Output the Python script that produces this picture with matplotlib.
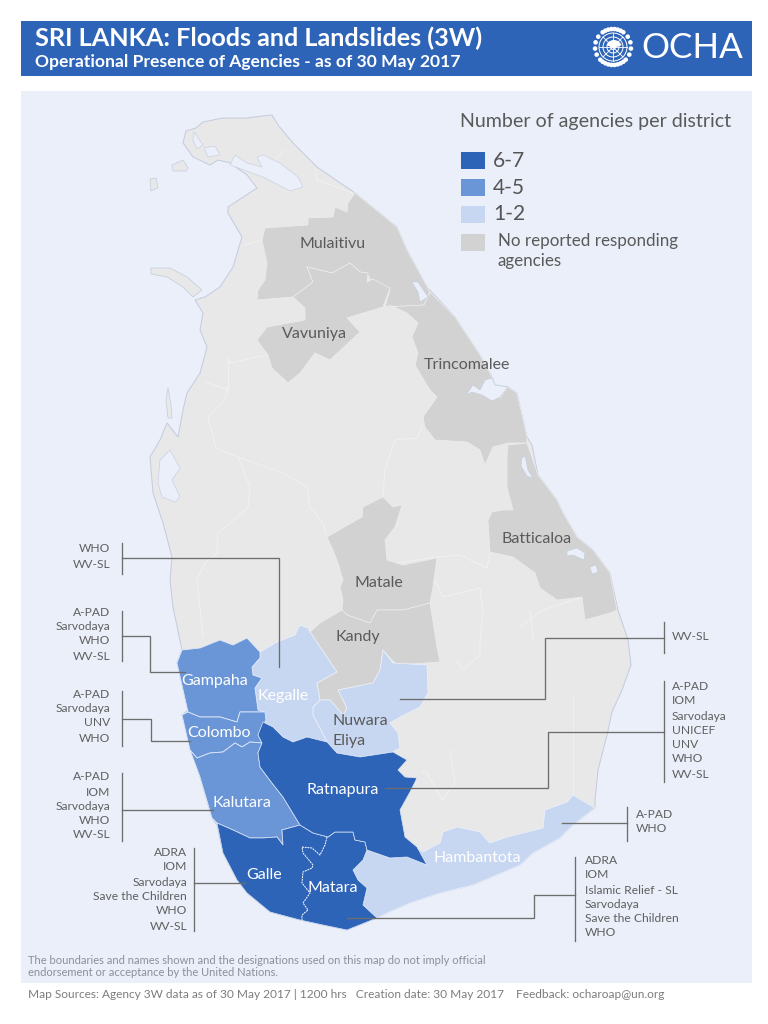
import numpy as np
import matplotlib
matplotlib.use('Agg')
import matplotlib.pyplot as plt
from matplotlib.patches import Polygon, Rectangle, Circle, Wedge

plt.rcParams['font.family'] = ['Lato', 'DejaVu Sans']

# colours of the classes
c_high = '#2d64b8'
c_mid = '#6a96d8'
c_low = '#c8d7f1'
c_none = '#d2d2d2'
c_land = '#e8e8e8'
c_sea = '#eaeffa'
c_coast = '#c3cbdd'
c_text = '#5a5a5a'
c_line = '#6d6d6d'

# outlines, in image pixels
island = [(196,128),(203,122),(223,118),(247,118),(262,116),(272,115),(278,125),(293,143),(317,167),(355,193),
    (397,227),(407,250),(427,287),(455,317),(480,355),(492,377),(495,385),(508,387),(517,393),(527,437),(532,445),
    (538,475),(557,500),(563,513),(577,537),(593,550),(610,573),(618,610),(628,640),(631,665),(622,690),(612,712),
    (607,735),(598,770),(595,800),(595,808),(573,825),(560,838),(533,853),(520,865),(473,885),(440,893),(410,903),
    (387,913),(377,918),(347,930),(323,925),(300,920),(270,912),(247,893),(237,880),(223,853),(217,825),(212,818),
    (200,777),(190,745),(182,715),(188,710),(177,663),(182,650),(173,607),(170,580),(172,557),(163,523),(153,493),
    (150,457),(160,440),(167,423),(178,437),(183,410),(187,393),(200,373),(207,347),(200,330),(203,313),(195,300),
    (205,297),(220,287),(233,267),(242,237),(228,213),(228,207),(257,188),(247,175),(230,163),(218,160),(210,165),
    (193,157),(183,143),(186,131)]
mannar = [(151,268),(170,268),(187,277),(202,290),(193,297),(183,287),(167,277),(151,274)]
delft = [(150,179),(156,178),(158,188),(151,191)]
kayts = [(172,165),(183,160),(188,168),(186,171),(173,171)]
karaitivu = [(168,388),(171,405),(172,418),(168,418),(166,400)]
jaffna_lagoon = [(230,165),(263,177),(290,191),(303,187),(298,177),(280,163),(263,155),(257,157),(262,167),(247,163),(235,155)]
jaffna_pond1 = [(194,132),(203,145),(197,149),(193,140)]
jaffna_pond2 = [(204,148),(215,146),(220,155),(208,157)]
nanthi_lagoon = [(412,282),(418,282),(428,297),(420,302),(418,292)]
puttalam_lagoon = [(160,460),(170,450),(180,468),(172,480),(180,497),(175,502),(162,497),(158,483)]
trinco_bay = [(466,395),(473,385),(480,390),(485,380),(492,378),(495,385),(508,387),(500,397),(492,401),(482,395),(472,392)]
batti_lagoon = [(522,458),(525,456),(528,470),(533,478),(527,476),(521,466)]
batti_lagoon2 = [(567,551),(577,548),(585,553),(584,560),(573,555),(567,556)]
arugam = [(590,567),(596,565),(598,572),(592,574)]

mulaitivu = [(265,228),(308,225),(308,218),(333,217),(335,207),(347,212),(348,203),(355,193),(397,227),(407,250),(430,292),
    (424,305),(385,307),(390,290),(370,279),(367,273),(360,272),(350,263),(332,273),(307,267),(313,282),(293,297),(257,300),
    (258,290),(265,280),(267,263),(262,240)]
vavuniya = [(307,267),(332,273),(350,263),(360,272),(368,273),(367,282),(373,279),(390,288),(383,307),(347,318),(360,332),
    (330,360),(315,353),(300,373),(288,383),(272,368),(268,355),(257,340),(267,327),(305,320),(305,308),(293,297),(313,282)]
trincomalee = [(385,307),(390,305),(407,313),(418,323),(412,337),(418,353),(415,365),(430,390),(437,397),(423,417),(425,427),
    (435,440),(467,442),(480,450),(485,465),(493,447),(508,443),(527,443),(527,437),(517,393),(508,387),(500,398),(492,377),
    (480,355),(455,317),(430,292),(424,305)]
batticaloa = [(508,445),(527,443),(538,475),(557,500),(563,513),(577,537),(593,550),(610,573),(617,610),(610,613),(585,620),
    (582,597),(557,600),(540,588),(535,573),(513,557),(490,552),(488,520),(492,512),(503,510),(513,510),(507,487),(507,457)]
matale = [(327,537),(362,517),(363,507),(383,497),(393,507),(402,505),(395,527),(385,540),(387,560),(403,565),(437,558),
    (433,587),(430,603),(403,610),(377,610),(370,623),(347,615),(342,610),(343,600),(340,587),(343,580),(338,563),(333,550)]
kandy = [(310,632),(320,623),(342,610),(347,615),(370,623),(377,610),(403,610),(430,603),(437,647),(440,662),(397,665),
    (390,658),(383,650),(380,670),(373,683),(338,690),(347,708),(343,715),(330,700),(320,700),(317,683),(337,672),(320,647)]
nuwara_eliya = [(383,650),(393,663),(427,665),(428,693),(420,707),(400,717),(390,723),(398,733),(400,748),(393,752),(360,757),
    (337,753),(327,742),(313,715),(313,707),(320,700),(330,700),(343,715),(347,708),(338,690),(373,683),(380,670)]
kegalle = [(300,625),(308,628),(310,632),(320,647),(337,672),(317,683),(320,700),(313,707),(313,715),(327,742),(307,737),
    (293,742),(283,737),(273,727),(263,722),(258,710),(255,688),(262,678),(253,675),(252,667),(260,658),(260,652),(277,642),(295,635)]
gampaha = [(182,650),(200,648),(220,640),(233,645),(247,638),(260,652),(260,658),(252,667),(253,675),(262,678),(255,688),(258,710),
    (265,712),(240,712),(237,722),(220,717),(200,717),(188,712),(177,663)]
colombo = [(182,715),(188,712),(200,717),(220,717),(237,722),(240,712),(265,712),(266,720),(258,735),(262,743),(250,742),(242,747),
    (235,743),(223,752),(210,753),(197,758),(190,750)]
kalutara = [(190,750),(197,758),(210,753),(223,752),(235,743),(242,747),(250,742),(262,743),(258,753),(260,767),(272,783),(283,797),
    (300,825),(282,830),(283,845),(277,837),(263,838),(250,838),(233,830),(217,823),(212,818),(200,777)]
ratnapura = [(263,722),(273,727),(283,737),(293,742),(307,737),(327,742),(337,753),(360,757),(393,752),(407,760),(398,770),(405,777),
    (417,778),(420,772),(410,792),(400,810),(405,837),(417,847),(427,865),(407,857),(390,858),(367,850),(365,842),(355,840),(353,832),
    (335,832),(328,837),(313,833),(300,825),(283,797),(272,783),(260,767),(258,753),(262,743),(258,735)]
galle_matara = [(217,823),(233,830),(250,838),(263,838),(277,837),(283,845),(282,830),(300,825),(313,833),(328,837),(335,832),(353,832),
    (355,840),(365,842),(367,850),(363,860),(353,870),(358,880),(367,888),(363,905),(377,918),(347,930),(323,925),(300,920),(270,912),
    (247,893),(237,880),(223,853)]
galle_matara_border = [(327,837),(325,845),(320,855),(312,848),(302,847),(303,853),(313,865),(312,868),(303,872),(302,883),(310,893),
    (303,903),(308,910),(302,915),(302,922)]
hambantota = [(367,850),(390,858),(407,857),(427,865),(417,847),(423,852),(440,843),(443,832),(457,827),(480,832),(490,843),(507,837),
    (543,828),(545,810),(567,802),(573,795),(595,808),(573,825),(560,838),(533,853),(520,865),(473,885),(440,893),(410,903),(387,913),
    (377,918),(363,905),(367,888),(358,880),(353,870),(363,860)]

# faint borders between the districts with no class colour
soft_borders = [
    [(245,245),(262,240)], [(283,150),(275,162)], [(315,168),(317,180),(353,193)],
    [(227,357),(230,363),(267,355)], [(228,360),(228,392)], [(205,382),(228,390)],
    [(227,387),(225,400),(208,417),(216,448),(238,457),(283,473),(307,487),(310,507),(323,523),(327,537)],
    [(238,457),(250,487),(248,508),(218,533),(217,553),(205,563),(197,580),(203,637)],
    [(423,425),(417,438),(395,440),(385,470),(383,495)],
    [(385,565),(437,557),(460,555),(487,568),(490,553)],
    [(433,577),(443,597),(480,588),(483,613),(480,640)],
    [(520,627),(543,610),(583,597)],
    [(480,640),(480,655),(463,670),(457,660)],
    [(450,750),(455,783),(442,800),(427,773),(420,772)],
    [(573,697),(573,795)], [(530,610),(533,640)],
]

# agencies shown per district (label block)
ag_kegalle = ['WHO', 'WV-SL']
ag_gampaha = ['A-PAD', 'Sarvodaya', 'WHO', 'WV-SL']
ag_colombo = ['A-PAD', 'Sarvodaya', 'UNV', 'WHO']
ag_kalutara = ['A-PAD', 'IOM', 'Sarvodaya', 'WHO', 'WV-SL']
ag_galle = ['ADRA', 'IOM', 'Sarvodaya', 'Save the Children', 'WHO', 'WV-SL']
ag_nuwara = ['WV-SL']
ag_ratnapura = ['A-PAD', 'IOM', 'Sarvodaya', 'UNICEF', 'UNV', 'WHO', 'WV-SL']
ag_hambantota = ['A-PAD', 'WHO']
ag_matara = ['ADRA', 'IOM', 'Islamic Relief - SL', 'Sarvodaya', 'Save the Children', 'WHO']

legend_labels = ['6-7', '4-5', '1-2']

fig = plt.figure(figsize=(7.68, 10.24), dpi=100)
ax = fig.add_axes([0, 0, 1, 1])
ax.set_xlim(0, 768)
ax.set_ylim(1024, 0)
ax.axis('off')


def px(size):
    return size * 0.72


def poly(pts, color, edge='none', lw=0.0, z=2):
    ax.add_patch(Polygon(pts, closed=True, facecolor=color, edgecolor=edge, linewidth=lw, zorder=z, joinstyle='round'))


def label(x, y, s, size, color=c_text, ha='left', **kw):
    ax.text(x, y, s, fontsize=px(size), color=color, ha=ha, va='center', zorder=8, **kw)


# header and map panel
ax.add_patch(Rectangle((21, 21), 731, 55, facecolor=c_high, edgecolor='none', zorder=1))
ax.add_patch(Rectangle((21, 91), 731, 892, facecolor=c_sea, edgecolor='none', zorder=1))
ax.text(35, 38, 'SRI LANKA: Floods and Landslides (3W)', fontsize=px(25.2), color='white', fontweight='bold', va='center', zorder=8)
ax.text(35, 62, 'Operational Presence of Agencies - as of 30 May 2017', fontsize=px(17.5), color='white', fontweight='bold', va='center', zorder=8)

# UN emblem, drawn plainly
cx, cy = 613, 47
for ang in range(-125, 130, 20):
    a = np.deg2rad(ang)
    for side in (-1, 1):
        ax.add_patch(Circle((cx + side * 18 * np.cos(a), cy - 18 * np.sin(a)), 2.3, facecolor='white', edgecolor='none', zorder=3))
ax.add_patch(Circle((cx, cy), 15, facecolor=c_high, edgecolor='none', zorder=4))
for r in (14, 10, 6, 2.5):
    ax.add_patch(Circle((cx, cy), r, facecolor='none', edgecolor='white', linewidth=0.7, zorder=5))
for ang in range(0, 180, 45):
    a = np.deg2rad(ang)
    ax.plot([cx - 14 * np.cos(a), cx + 14 * np.cos(a)], [cy - 14 * np.sin(a), cy + 14 * np.sin(a)], color='white', lw=0.6, zorder=5)
ax.add_patch(Wedge((cx + 1, cy + 1), 8, 200, 340, facecolor='white', edgecolor='none', zorder=5))
ax.text(641, 48.5, 'OCHA', fontsize=px(35), color='white', va='center', zorder=8)

# land
poly(island, c_land, edge=c_coast, lw=0.7)
for pts in [mannar, delft, kayts, karaitivu]:
    poly(pts, c_land, edge=c_coast, lw=0.5)
for seg in soft_borders:
    s = np.array(seg)
    ax.plot(s[:, 0], s[:, 1], color='#f1f1f1', lw=0.7, zorder=3)

# districts by class
for pts in [mulaitivu, vavuniya, trincomalee, batticaloa, matale, kandy]:
    poly(pts, c_none, edge='#ededed', lw=0.5, z=4)
for pts in [nuwara_eliya, kegalle, hambantota]:
    poly(pts, c_low, edge='#eef2fb', lw=0.5, z=4)
for pts in [gampaha, colombo, kalutara]:
    poly(pts, c_mid, edge='#dfe8f8', lw=0.6, z=4)
for pts in [galle_matara, ratnapura]:
    poly(pts, c_high, edge='#dbe5f6', lw=0.5, z=5)
b = np.array(galle_matara_border)
ax.plot(b[:, 0], b[:, 1], color='white', lw=0.7, ls=(0, (2, 0.8)), zorder=6)

# lagoons
for pts in [jaffna_lagoon, jaffna_pond1, jaffna_pond2, nanthi_lagoon, puttalam_lagoon, trinco_bay, batti_lagoon, batti_lagoon2, arugam]:
    poly(pts, c_sea, edge=c_coast, lw=0.4, z=6)

# district names
for x, y, s in [(333, 244, 'Mulaitivu'), (314, 334, 'Vavuniya'), (467, 365, 'Trincomalee'), (537, 539, 'Batticaloa'),
                (379, 583, 'Matale'), (358, 637, 'Kandy'), (360, 721, 'Nuwara'), (349, 741, 'Eliya')]:
    label(x, y, s, 16, ha='center')
for x, y, s in [(215, 681, 'Gampaha'), (219, 733, 'Colombo'), (283, 696, 'Kegalle'), (343, 790, 'Ratnapura'), (242, 803, 'Kalutara'),
                (264, 875, 'Galle'), (333, 888, 'Matara'), (477, 858, 'Hambantota')]:
    label(x, y, s, 16, color='white', ha='center')


def block(x, ys, names, ha):
    for y, s in zip(ys, names):
        label(x, y, s, 12, ha=ha, color='#5f5f5f')


block(110, [549, 565], ag_kegalle, 'right')
block(110, [612, 627, 641, 656], ag_gampaha, 'right')
block(110, [694, 709, 723, 738], ag_colombo, 'right')
block(110, [777, 792, 806, 820, 835], ag_kalutara, 'right')
block(187, [853, 867, 882, 897, 911, 926], ag_galle, 'right')
block(672, [636], ag_nuwara, 'left')
block(672, [687, 701, 716, 730, 744, 759, 774], ag_ratnapura, 'left')
block(636, [815, 829], ag_hambantota, 'left')
block(585, [861, 875, 890, 905, 919, 933], ag_matara, 'left')

# leader lines
leaders = [
    ([122, 122], [543, 574]), ([122, 279, 279], [558, 558, 667]),
    ([122, 122], [611, 661]), ([122, 150, 150, 185], [636, 636, 672, 672]),
    ([122, 122], [691, 746]), ([122, 151, 151, 190], [719, 719, 741, 741]),
    ([122, 122], [773, 841]), ([122, 213], [810, 810]),
    ([194, 194], [848, 931]), ([194, 245], [883, 883]),
    ([663.5, 663.5], [622, 653]), ([663.5, 545, 545, 400], [638, 638, 699, 699]),
    ([663.5, 663.5], [681, 782]), ([663.5, 548, 548, 385], [732, 732, 788, 788]),
    ([627, 627], [807, 841]), ([627, 562], [823, 823]),
    ([574.5, 574.5], [857, 941]), ([574.5, 534, 534, 347], [895, 895, 918, 918]),
]
for xs, ys in leaders:
    ax.plot(xs, ys, color=c_line, lw=0.95, zorder=7, solid_joinstyle='miter')

# legend
label(460, 121, 'Number of agencies per district', 19.6)
for y, col in zip([152, 179, 206], [c_high, c_mid, c_low]):
    ax.add_patch(Rectangle((461, y), 24, 16.5, facecolor=col, edgecolor='none', zorder=7))
ax.add_patch(Rectangle((461, 234), 24, 16.5, facecolor=c_none, edgecolor='none', zorder=7))
for y, s in zip([161, 188, 214], legend_labels):
    label(493, y, s, 21, color='#555555')
label(498, 241, 'No reported responding', 17)
label(498, 261, 'agencies', 17)

# notes
note = '#8a8f99'
label(28, 960, 'The boundaries and names shown and the designations used on this map do not imply official', 11.1, color=note)
label(28, 973, 'endorsement or acceptance by the United Nations.', 11.1, color=note)
label(28, 995, 'Map Sources: Agency 3W data as of 30 May 2017 | 1200 hrs   Creation date: 30 May 2017    Feedback: ocharoap@un.org', 11.9, color='#7d7d7d')

fig.savefig('out.png', dpi=100, facecolor='white')
